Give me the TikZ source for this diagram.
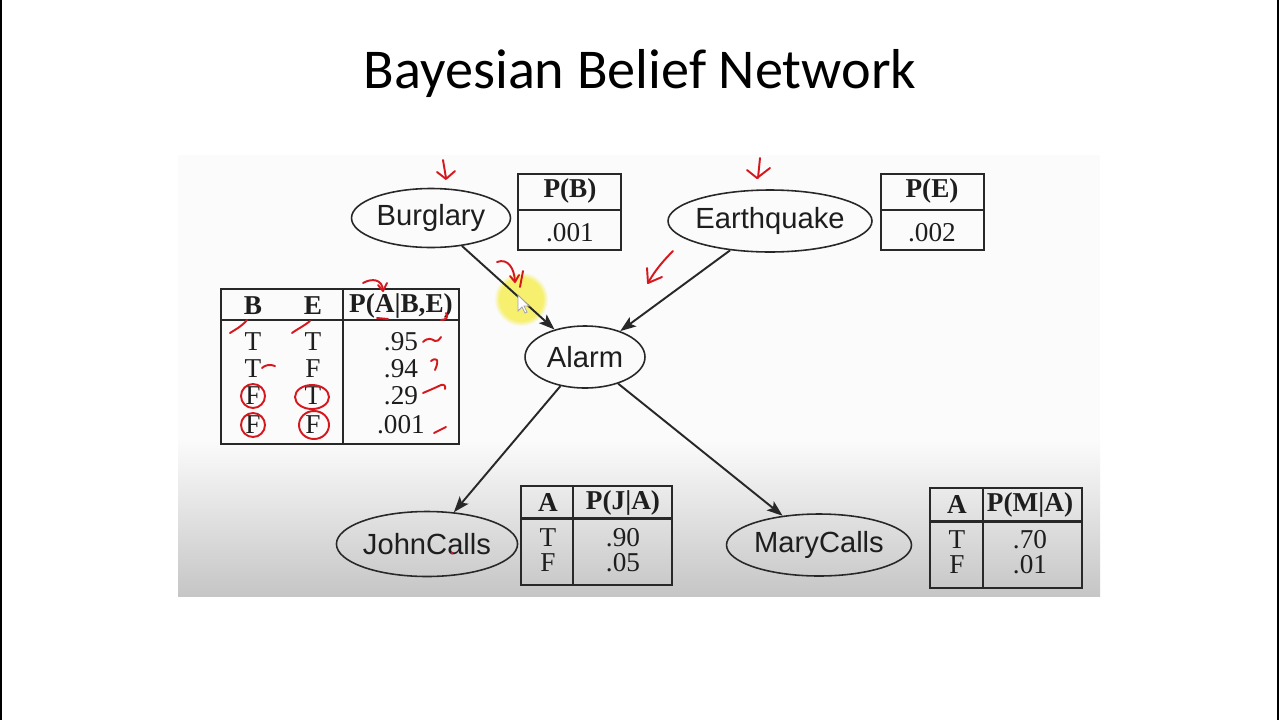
\documentclass[tikz,border=0pt]{standalone}
\usepackage{fontspec}
\setmainfont{Liberation Serif}
\setsansfont{Liberation Sans}
\newfontfamily\titlefont{Carlito}
\usetikzlibrary{positioning,shapes.geometric,arrows.meta,calc,fadings}
\definecolor{InkRed}{RGB}{214,24,30}
\definecolor{LineGray}{RGB}{40,40,40}
\definecolor{TextGray}{RGB}{30,30,30}
\definecolor{HaloYellow}{RGB}{246,240,110}
\tikzset{
	varnode/.style={ellipse,draw=LineGray,line width=0.9pt,inner sep=0pt,text=TextGray,
		font=\sffamily\fontsize{16.6}{18}\selectfont},
	edge/.style={->,>={Stealth[length=9pt,width=6.5pt,inset=2pt]},draw=LineGray,line width=1.1pt},
	cpt/.style={draw=LineGray,line width=0.9pt},
	cptsep/.style={draw=LineGray,line width=1.7pt},
	cell/.style={inner sep=0pt,text=TextGray,font=\fontsize{15.5}{17}\selectfont},
	head/.style={cell,font=\bfseries\fontsize{15.5}{17}\selectfont},
	ink/.style={InkRed,line width=1.1pt,line cap=round,line join=round},
}

\begin{document}
\begin{tikzpicture}[x=0.02cm,y=-0.02cm]
	\useasboundingbox (0,0) rectangle (1280,720);
	\fill[white] (0,0) rectangle (1280,720);
	\draw[black,line width=1pt] (1,0) -- (1,720);
	\draw[black,line width=1pt] (1278,0) -- (1278,720);
	% panel behind the network
	\fill[gray!3] (178,155) rectangle (1100,442);
	\shade[top color=gray!3,bottom color=gray!45] (178,440) rectangle (1100,596);
	\node (title) at (640,74) {\titlefont\fontsize{32}{38}\selectfont Bayesian Belief Network};
	% cursor halo
	\fill[HaloYellow,path fading=circle with fuzzy edge 20 percent] (521,299) circle [radius=27];
	% variables
	\node[varnode,minimum width=3.18cm,minimum height=1.18cm] (burglary) at (431,218) {Burglary};
	\node[varnode,minimum width=4.08cm,minimum height=1.24cm,inner xsep=-2pt] (earthquake) at (770,221) {Earthquake};
	\node[varnode,minimum width=2.4cm,minimum height=1.24cm] (alarm) at (585,357) {Alarm};
	\node[varnode,minimum width=3.62cm,minimum height=1.3cm] (johncalls) at (427,544) {JohnCalls};
	\node[varnode,minimum width=3.7cm,minimum height=1.24cm] (marycalls) at (819,545) {MaryCalls};
	\draw[edge] (burglary) -- (alarm);
	\draw[edge] (earthquake) -- (alarm);
	\draw[edge] (alarm) -- (johncalls);
	\draw[edge] (alarm) -- (marycalls);
	% P(B)
	\draw[cpt] (518,174) rectangle (621,250);
	\draw[cptsep] (518,210) -- (621,210);
	\node[head] (pbhead) at (570,191) {P(B)};
	\node[cell] (pbval) at (570,233) {.001};
	% P(E)
	\draw[cpt] (881,174) rectangle (984,250);
	\draw[cptsep] (881,210) -- (984,210);
	\node[head] (pehead) at (932,191) {P(E)};
	\node[cell] (peval) at (932,233) {.002};
	% P(A|B,E)
	\draw[cpt] (221,289) rectangle (459,444);
	\draw[cptsep] (221,320) -- (459,320);
	\draw[cpt] (343,289) -- (343,444);
	\node[head] (pab) at (253,306) {B};
	\node[head] (pae) at (313,306) {E};
	\node[head] (pap) at (401,306) {P(A|B,E)};
	\foreach \b/\e/\p/\y [count=\i] in {T/T/.95/342,T/F/.94/369,F/T/.29/396,F/F/.001/425}{
		\node[cell] (pab\i) at (253,\y) {\b};
		\node[cell] (pae\i) at (313,\y) {\e};
		\node[cell] (pap\i) at (401,\y) {\p};
	}
	% P(J|A)
	\draw[cpt] (521,486) rectangle (672,585);
	\draw[cptsep] (521,518) -- (672,518);
	\draw[cpt] (573,486) -- (573,585);
	\node[head] (pja) at (548,503) {A};
	\node[head] (pjp) at (623,503) {P(J|A)};
	\node[cell] (pja1) at (548,538) {T};
	\node[cell] (pjp1) at (623,538) {.90};
	\node[cell] (pja2) at (548,563) {F};
	\node[cell] (pjp2) at (623,563) {.05};
	% P(M|A)
	\draw[cpt] (930,488) rectangle (1082,588);
	\draw[cptsep] (930,521) -- (1082,521);
	\draw[cpt] (983,488) -- (983,588);
	\node[head] (pma) at (957,505) {A};
	\node[head] (pmp) at (1030,505) {P(M|A)};
	\node[cell] (pma1) at (957,540) {T};
	\node[cell] (pmp1) at (1030,540) {.70};
	\node[cell] (pma2) at (957,565) {F};
	\node[cell] (pmp2) at (1030,565) {.01};
	% pen marks
	\draw[ink] (443,160) -- (446,178);
	\draw[ink] (437,172) -- (446,179) -- (455,171);
	\draw[ink] (760,158) -- (758,178);
	\draw[ink] (747,170) -- (757,178) -- (770,168);
	\draw[ink] (497,262) .. controls (508,258) and (514,268) .. (515,281);
	\draw[ink] (510,276) -- (515,282) -- (519,275);
	\draw[ink] (523,271) -- (520,287);
	\draw[ink] (673,251) .. controls (662,262) and (654,272) .. (648,283);
	\draw[ink] (647,268) -- (648,283) -- (662,277);
	\draw[ink] (363,283) .. controls (372,278) and (382,279) .. (383,290);
	\draw[ink] (378,285) -- (383,291) -- (387,283);
	\draw[ink] (377,318) -- (388,319);
	\draw[ink] (446,313) .. controls (449,317) and (446,320) .. (441,320);
	\draw[ink] (230,333) .. controls (236,329) and (241,327) .. (247,320);
	\draw[ink] (292,333) .. controls (299,328) and (304,326) .. (310,321);
	\draw[ink] (262,368) .. controls (265,365) and (270,364) .. (275,366);
	\draw[ink] (423,342) .. controls (428,337) and (432,339) .. (435,341) .. controls (437,342) and (439,340) .. (441,337);
	\draw[ink] (431,361) .. controls (436,357) and (440,359) .. (435,370);
	\draw[ink] (423,393) .. controls (430,390) and (437,387) .. (441,385) .. controls (444,384) and (446,386) .. (445,389);
	\draw[ink] (434,433) -- (446,427);
	\draw[ink] (253,396) ellipse [x radius=12,y radius=12];
	\draw[ink] (312,397) ellipse [x radius=17,y radius=12];
	\draw[ink] (253,425) ellipse [x radius=12,y radius=12];
	\draw[ink] (314,425) ellipse [x radius=15,y radius=14];
	\fill[InkRed] (452,553) circle [radius=1.5];
	% cursor
	\draw[gray!70,fill=white,line width=0.5pt] (518,295) -- (518,311) -- (522,307) -- (525,313) -- (527,312) -- (524,306) -- (529,306) -- cycle;
\end{tikzpicture}
\end{document}
